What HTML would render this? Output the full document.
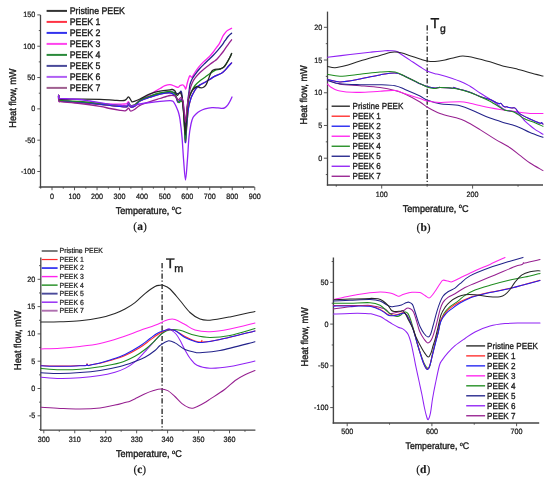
<!DOCTYPE html>
<html><head><meta charset="utf-8"><title>DSC curves</title>
<style>html,body{margin:0;padding:0;background:#fff;width:550px;height:482px;overflow:hidden}svg{display:block;filter:blur(0.35px)}</style>
</head><body>
<svg width="550" height="482" viewBox="0 0 550 482">
<style>text{stroke:#1a1a1a;text-rendering:geometricPrecision}</style>
<rect width="550" height="482" fill="#fff"/>
<line x1="40.5" y1="15" x2="40.5" y2="187.65" stroke="#454545" stroke-width="1.3"/>
<line x1="39.85" y1="187" x2="254.5" y2="187" stroke="#454545" stroke-width="1.3"/>
<line x1="52" y1="187" x2="52" y2="190.2" stroke="#454545" stroke-width="0.9"/>
<text transform="translate(52 198.8) scale(1 1.08)" font-family='"Liberation Sans", sans-serif' font-size="7.2" text-anchor="middle" font-weight="normal" fill="#1a1a1a" stroke-width="0.23">0</text>
<line x1="74.53" y1="187" x2="74.53" y2="190.2" stroke="#454545" stroke-width="0.9"/>
<text transform="translate(74.53 198.8) scale(1 1.08)" font-family='"Liberation Sans", sans-serif' font-size="7.2" text-anchor="middle" font-weight="normal" fill="#1a1a1a" stroke-width="0.23">100</text>
<line x1="97.06" y1="187" x2="97.06" y2="190.2" stroke="#454545" stroke-width="0.9"/>
<text transform="translate(97.06 198.8) scale(1 1.08)" font-family='"Liberation Sans", sans-serif' font-size="7.2" text-anchor="middle" font-weight="normal" fill="#1a1a1a" stroke-width="0.23">200</text>
<line x1="119.59" y1="187" x2="119.59" y2="190.2" stroke="#454545" stroke-width="0.9"/>
<text transform="translate(119.59 198.8) scale(1 1.08)" font-family='"Liberation Sans", sans-serif' font-size="7.2" text-anchor="middle" font-weight="normal" fill="#1a1a1a" stroke-width="0.23">300</text>
<line x1="142.12" y1="187" x2="142.12" y2="190.2" stroke="#454545" stroke-width="0.9"/>
<text transform="translate(142.12 198.8) scale(1 1.08)" font-family='"Liberation Sans", sans-serif' font-size="7.2" text-anchor="middle" font-weight="normal" fill="#1a1a1a" stroke-width="0.23">400</text>
<line x1="164.65" y1="187" x2="164.65" y2="190.2" stroke="#454545" stroke-width="0.9"/>
<text transform="translate(164.65 198.8) scale(1 1.08)" font-family='"Liberation Sans", sans-serif' font-size="7.2" text-anchor="middle" font-weight="normal" fill="#1a1a1a" stroke-width="0.23">500</text>
<line x1="187.18" y1="187" x2="187.18" y2="190.2" stroke="#454545" stroke-width="0.9"/>
<text transform="translate(187.18 198.8) scale(1 1.08)" font-family='"Liberation Sans", sans-serif' font-size="7.2" text-anchor="middle" font-weight="normal" fill="#1a1a1a" stroke-width="0.23">600</text>
<line x1="209.71" y1="187" x2="209.71" y2="190.2" stroke="#454545" stroke-width="0.9"/>
<text transform="translate(209.71 198.8) scale(1 1.08)" font-family='"Liberation Sans", sans-serif' font-size="7.2" text-anchor="middle" font-weight="normal" fill="#1a1a1a" stroke-width="0.23">700</text>
<line x1="232.24" y1="187" x2="232.24" y2="190.2" stroke="#454545" stroke-width="0.9"/>
<text transform="translate(232.24 198.8) scale(1 1.08)" font-family='"Liberation Sans", sans-serif' font-size="7.2" text-anchor="middle" font-weight="normal" fill="#1a1a1a" stroke-width="0.23">800</text>
<line x1="254.77" y1="187" x2="254.77" y2="190.2" stroke="#454545" stroke-width="0.9"/>
<text transform="translate(254.77 198.8) scale(1 1.08)" font-family='"Liberation Sans", sans-serif' font-size="7.2" text-anchor="middle" font-weight="normal" fill="#1a1a1a" stroke-width="0.23">900</text>
<line x1="40.73" y1="187" x2="40.73" y2="188.7" stroke="#454545" stroke-width="0.9"/>
<line x1="63.27" y1="187" x2="63.27" y2="188.7" stroke="#454545" stroke-width="0.9"/>
<line x1="85.8" y1="187" x2="85.8" y2="188.7" stroke="#454545" stroke-width="0.9"/>
<line x1="108.33" y1="187" x2="108.33" y2="188.7" stroke="#454545" stroke-width="0.9"/>
<line x1="130.86" y1="187" x2="130.86" y2="188.7" stroke="#454545" stroke-width="0.9"/>
<line x1="153.38" y1="187" x2="153.38" y2="188.7" stroke="#454545" stroke-width="0.9"/>
<line x1="175.92" y1="187" x2="175.92" y2="188.7" stroke="#454545" stroke-width="0.9"/>
<line x1="198.44" y1="187" x2="198.44" y2="188.7" stroke="#454545" stroke-width="0.9"/>
<line x1="220.97" y1="187" x2="220.97" y2="188.7" stroke="#454545" stroke-width="0.9"/>
<line x1="243.5" y1="187" x2="243.5" y2="188.7" stroke="#454545" stroke-width="0.9"/>
<line x1="37.3" y1="171.5" x2="40.5" y2="171.5" stroke="#454545" stroke-width="0.9"/>
<text transform="translate(35.3 174.09) scale(1 1.08)" font-family='"Liberation Sans", sans-serif' font-size="7.2" text-anchor="end" font-weight="normal" fill="#1a1a1a" stroke-width="0.23">-100</text>
<line x1="37.3" y1="140.18" x2="40.5" y2="140.18" stroke="#454545" stroke-width="0.9"/>
<text transform="translate(35.3 142.77) scale(1 1.08)" font-family='"Liberation Sans", sans-serif' font-size="7.2" text-anchor="end" font-weight="normal" fill="#1a1a1a" stroke-width="0.23">-50</text>
<line x1="37.3" y1="108.86" x2="40.5" y2="108.86" stroke="#454545" stroke-width="0.9"/>
<text transform="translate(35.3 111.45) scale(1 1.08)" font-family='"Liberation Sans", sans-serif' font-size="7.2" text-anchor="end" font-weight="normal" fill="#1a1a1a" stroke-width="0.23">0</text>
<line x1="37.3" y1="77.54" x2="40.5" y2="77.54" stroke="#454545" stroke-width="0.9"/>
<text transform="translate(35.3 80.13) scale(1 1.08)" font-family='"Liberation Sans", sans-serif' font-size="7.2" text-anchor="end" font-weight="normal" fill="#1a1a1a" stroke-width="0.23">50</text>
<line x1="37.3" y1="46.22" x2="40.5" y2="46.22" stroke="#454545" stroke-width="0.9"/>
<text transform="translate(35.3 48.81) scale(1 1.08)" font-family='"Liberation Sans", sans-serif' font-size="7.2" text-anchor="end" font-weight="normal" fill="#1a1a1a" stroke-width="0.23">100</text>
<line x1="37.3" y1="14.9" x2="40.5" y2="14.9" stroke="#454545" stroke-width="0.9"/>
<text transform="translate(35.3 17.49) scale(1 1.08)" font-family='"Liberation Sans", sans-serif' font-size="7.2" text-anchor="end" font-weight="normal" fill="#1a1a1a" stroke-width="0.23">150</text>
<line x1="38.8" y1="187.16" x2="40.5" y2="187.16" stroke="#454545" stroke-width="0.9"/>
<line x1="38.8" y1="155.84" x2="40.5" y2="155.84" stroke="#454545" stroke-width="0.9"/>
<line x1="38.8" y1="124.52" x2="40.5" y2="124.52" stroke="#454545" stroke-width="0.9"/>
<line x1="38.8" y1="93.2" x2="40.5" y2="93.2" stroke="#454545" stroke-width="0.9"/>
<line x1="38.8" y1="61.88" x2="40.5" y2="61.88" stroke="#454545" stroke-width="0.9"/>
<line x1="38.8" y1="30.56" x2="40.5" y2="30.56" stroke="#454545" stroke-width="0.9"/>
<text transform="translate(115.7 213.8) scale(1 1.08)" font-family='"Liberation Sans", sans-serif' font-size="9.1" text-anchor="start" font-weight="normal" fill="#1a1a1a" stroke-width="0.35">Temperature, <tspan font-size="5.64" dy="-3.46">o</tspan><tspan dy="3.46">C</tspan></text>
<text transform="translate(16 98.1) rotate(-90) scale(1 1.08)" font-family='"Liberation Sans", sans-serif' font-size="9.2" text-anchor="middle" font-weight="normal" fill="#1a1a1a" stroke-width="0.35">Heat flow, mW</text>
<text transform="translate(140 230.3) scale(1 1)" font-family='"Liberation Serif", serif' font-size="11.5" text-anchor="middle" font-weight="normal" fill="#1a1a1a" stroke-width="0.15">(<tspan font-weight="bold">a</tspan>)</text>
<line x1="46.6" y1="10.9" x2="67" y2="10.9" stroke="#333" stroke-width="2"/>
<text transform="translate(69.7 13.98) scale(1 1.08)" font-family='"Liberation Sans", sans-serif' font-size="8.8" text-anchor="start" font-weight="normal" fill="#1a1a1a" stroke-width="0.33">Pristine PEEK</text>
<line x1="46.6" y1="21.9" x2="67" y2="21.9" stroke="#ff3344" stroke-width="2"/>
<text transform="translate(69.7 24.98) scale(1 1.08)" font-family='"Liberation Sans", sans-serif' font-size="8.8" text-anchor="start" font-weight="normal" fill="#1a1a1a" stroke-width="0.33">PEEK 1</text>
<line x1="46.6" y1="32.9" x2="67" y2="32.9" stroke="#3333ee" stroke-width="2"/>
<text transform="translate(69.7 35.98) scale(1 1.08)" font-family='"Liberation Sans", sans-serif' font-size="8.8" text-anchor="start" font-weight="normal" fill="#1a1a1a" stroke-width="0.33">PEEK 2</text>
<line x1="46.6" y1="43.9" x2="67" y2="43.9" stroke="#ff44ee" stroke-width="2"/>
<text transform="translate(69.7 46.98) scale(1 1.08)" font-family='"Liberation Sans", sans-serif' font-size="8.8" text-anchor="start" font-weight="normal" fill="#1a1a1a" stroke-width="0.33">PEEK 3</text>
<line x1="46.6" y1="54.9" x2="67" y2="54.9" stroke="#2a8a3a" stroke-width="2"/>
<text transform="translate(69.7 57.98) scale(1 1.08)" font-family='"Liberation Sans", sans-serif' font-size="8.8" text-anchor="start" font-weight="normal" fill="#1a1a1a" stroke-width="0.33">PEEK 4</text>
<line x1="46.6" y1="65.9" x2="67" y2="65.9" stroke="#4a4a9a" stroke-width="2"/>
<text transform="translate(69.7 68.98) scale(1 1.08)" font-family='"Liberation Sans", sans-serif' font-size="8.8" text-anchor="start" font-weight="normal" fill="#1a1a1a" stroke-width="0.33">PEEK 5</text>
<line x1="46.6" y1="76.9" x2="67" y2="76.9" stroke="#b060f4" stroke-width="2"/>
<text transform="translate(69.7 79.98) scale(1 1.08)" font-family='"Liberation Sans", sans-serif' font-size="8.8" text-anchor="start" font-weight="normal" fill="#1a1a1a" stroke-width="0.33">PEEK 6</text>
<line x1="46.6" y1="87.9" x2="67" y2="87.9" stroke="#a06090" stroke-width="2"/>
<text transform="translate(69.7 90.98) scale(1 1.08)" font-family='"Liberation Sans", sans-serif' font-size="8.8" text-anchor="start" font-weight="normal" fill="#1a1a1a" stroke-width="0.33">PEEK 7</text>
<path d="M58.6,95.5C58.65,96.28 58.33,99.3 58.9,100.2C59.47,101.1 58.48,100.57 62,100.9C65.52,101.23 73.67,101.75 80,102.2C86.33,102.65 94.17,103.27 100,103.6C105.83,103.93 110.83,104.13 115,104.2C119.17,104.27 123,104.13 125,104C127,103.87 126.42,103.77 127,103.4C127.58,103.03 127.92,101.47 128.5,101.8C129.08,102.13 129.42,104.93 130.5,105.4C131.58,105.87 133.42,105.52 135,104.6C136.58,103.68 137.5,101.58 140,99.9C142.5,98.22 146.67,96.4 150,94.5C153.33,92.6 157.5,89.97 160,88.5C162.5,87.03 163.33,86.35 165,85.7C166.67,85.05 168.33,84.5 170,84.6C171.67,84.7 173.67,85.83 175,86.3C176.33,86.77 177.17,87.5 178,87.4C178.83,87.3 179.17,86.1 180,85.7C180.83,85.3 182.2,84.75 183,85C183.8,85.25 184.35,86.53 184.8,87.2C185.25,87.87 185.42,89.12 185.7,89C185.98,88.88 186.23,87.5 186.5,86.5C186.77,85.5 186.9,84.45 187.3,83C187.7,81.55 188.45,79.03 188.9,77.8C189.35,76.57 189.48,75.7 190,75.6C190.52,75.5 191.25,77.63 192,77.2C192.75,76.77 193.42,74.65 194.5,73C195.58,71.35 196.97,69.2 198.5,67.3C200.03,65.4 202,63.28 203.7,61.6C205.4,59.92 207.57,58.25 208.7,57.2C209.83,56.15 209.73,56.17 210.5,55.3C211.27,54.43 212.28,53.32 213.3,52C214.32,50.68 215.63,48.72 216.6,47.4C217.57,46.08 218.4,45.22 219.1,44.1C219.8,42.98 220.1,42.15 220.8,40.7C221.5,39.25 222.4,36.92 223.3,35.4C224.2,33.88 225.37,32.5 226.2,31.6C227.03,30.7 227.4,30.57 228.3,30C229.2,29.43 231.05,28.5 231.6,28.2" fill="none" stroke="#ff22ee" stroke-width="1.3" stroke-linejoin="round" stroke-linecap="round"/>
<path d="M58.6,95.5C58.65,96.32 58.33,99.45 58.9,100.4C59.47,101.35 58.48,100.87 62,101.2C65.52,101.53 73.67,101.87 80,102.4C86.33,102.93 93.33,103.77 100,104.4C106.67,105.03 115.5,105.87 120,106.2C124.5,106.53 125.55,106.87 127,106.4C128.45,105.93 128.08,103.37 128.7,103.4C129.32,103.43 129.65,106.23 130.7,106.6C131.75,106.97 133.45,106.57 135,105.6C136.55,104.63 137.5,102.33 140,100.8C142.5,99.27 146.67,97.63 150,96.4C153.33,95.17 156.67,94.17 160,93.4C163.33,92.63 167.5,91.9 170,91.8C172.5,91.7 173.67,92.5 175,92.8C176.33,93.1 177.17,93.68 178,93.6C178.83,93.52 179.5,92.7 180,92.3C180.5,91.9 180.67,90.75 181,91.2C181.33,91.65 181.58,91.87 182,95C182.42,98.13 182.93,104.5 183.5,110C184.07,115.5 184.85,127.67 185.4,128C185.95,128.33 186.33,117 186.8,112C187.27,107 187.83,101.38 188.2,98C188.57,94.62 188.7,93.97 189,91.7C189.3,89.43 189.5,86.48 190,84.4C190.5,82.32 191.17,80.83 192,79.2C192.83,77.57 193.67,76.42 195,74.6C196.33,72.78 198.33,70.2 200,68.3C201.67,66.4 203.33,64.83 205,63.2C206.67,61.57 208.62,59.82 210,58.5C211.38,57.18 212.05,56.6 213.3,55.3C214.55,54 216.12,52.3 217.5,50.7C218.88,49.1 220.35,47.37 221.6,45.7C222.85,44.03 223.88,42.28 225,40.7C226.12,39.12 227.2,37.45 228.3,36.2C229.4,34.95 231.05,33.7 231.6,33.2" fill="none" stroke="#22228a" stroke-width="1.3" stroke-linejoin="round" stroke-linecap="round"/>
<path d="M58.6,95.5C58.65,96.3 58.33,99.38 58.9,100.3C59.47,101.22 58.48,100.68 62,101C65.52,101.32 73.67,101.67 80,102.2C86.33,102.73 93.33,103.5 100,104.2C106.67,104.9 115.5,105.97 120,106.4C124.5,106.83 125.55,107.27 127,106.8C128.45,106.33 128.08,103.57 128.7,103.6C129.32,103.63 129.65,106.6 130.7,107C131.75,107.4 133.45,107 135,106C136.55,105 137.5,102.47 140,101C142.5,99.53 146.67,98.37 150,97.2C153.33,96.03 156.67,94.73 160,94C163.33,93.27 167.5,92.55 170,92.8C172.5,93.05 173.83,94.32 175,95.5C176.17,96.68 176.5,98.8 177,99.9C177.5,101 177.33,102.1 178,102.1C178.67,102.1 180.17,99.82 181,99.9C181.83,99.98 182.45,99.25 183,102.6C183.55,105.95 183.9,113.35 184.3,120C184.7,126.65 184.98,141.67 185.4,142.5C185.82,143.33 186.28,130.75 186.8,125C187.32,119.25 187.8,112.5 188.5,108C189.2,103.5 190.25,100.37 191,98C191.75,95.63 192.17,95.37 193,93.8C193.83,92.23 194.83,90.08 196,88.6C197.17,87.12 198.5,85.95 200,84.9C201.5,83.85 203.33,83.25 205,82.3C206.67,81.35 208.33,80.23 210,79.2C211.67,78.17 213.15,77.05 215,76.1C216.85,75.15 219.45,74.45 221.1,73.5C222.75,72.55 223.65,71.65 224.9,70.4C226.15,69.15 227.48,67.25 228.6,66C229.72,64.75 231.1,63.42 231.6,62.9" fill="none" stroke="#ff2a2a" stroke-width="1.3" stroke-linejoin="round" stroke-linecap="round"/>
<path d="M58.6,95.5C58.65,96.3 58.33,99.38 58.9,100.3C59.47,101.22 58.48,100.68 62,101C65.52,101.32 73.67,101.67 80,102.2C86.33,102.73 93.33,103.5 100,104.2C106.67,104.9 115.5,105.97 120,106.4C124.5,106.83 125.55,107.27 127,106.8C128.45,106.33 128.08,103.57 128.7,103.6C129.32,103.63 129.65,106.6 130.7,107C131.75,107.4 133.45,107 135,106C136.55,105 137.5,102.47 140,101C142.5,99.53 146.67,98.37 150,97.2C153.33,96.03 156.67,94.73 160,94C163.33,93.27 167.5,92.55 170,92.8C172.5,93.05 173.83,94.32 175,95.5C176.17,96.68 176.5,98.8 177,99.9C177.5,101 177.33,102.1 178,102.1C178.67,102.1 180.17,99.82 181,99.9C181.83,99.98 182.45,99.25 183,102.6C183.55,105.95 183.9,113.35 184.3,120C184.7,126.65 184.98,141.67 185.4,142.5C185.82,143.33 186.28,130.75 186.8,125C187.32,119.25 187.8,112.5 188.5,108C189.2,103.5 190.25,100.37 191,98C191.75,95.63 192.17,95.37 193,93.8C193.83,92.23 194.83,90.08 196,88.6C197.17,87.12 198.5,85.95 200,84.9C201.5,83.85 203.33,83.25 205,82.3C206.67,81.35 208.33,80.23 210,79.2C211.67,78.17 213.15,77.05 215,76.1C216.85,75.15 219.45,74.45 221.1,73.5C222.75,72.55 223.65,71.65 224.9,70.4C226.15,69.15 227.48,67.25 228.6,66C229.72,64.75 231.1,63.42 231.6,62.9" fill="none" stroke="#2020f0" stroke-width="1.3" stroke-linejoin="round" stroke-linecap="round"/>
<path d="M58.6,95.5C58.65,96.25 58.33,99.15 58.9,100C59.47,100.85 58.48,100.35 62,100.6C65.52,100.85 73.67,101.03 80,101.5C86.33,101.97 93.33,102.75 100,103.4C106.67,104.05 115.5,105.03 120,105.4C124.5,105.77 125.55,106.03 127,105.6C128.45,105.17 128.08,102.8 128.7,102.8C129.32,102.8 129.65,105.3 130.7,105.6C131.75,105.9 133.45,105.5 135,104.6C136.55,103.7 137.5,101.63 140,100.2C142.5,98.77 146.67,97.2 150,96C153.33,94.8 156.67,93.77 160,93C163.33,92.23 167.5,91.25 170,91.4C172.5,91.55 173.83,92.67 175,93.9C176.17,95.13 176.33,97.35 177,98.8C177.67,100.25 178.33,102.23 179,102.6C179.67,102.97 180.33,100.77 181,101C181.67,101.23 182.5,100.83 183,104C183.5,107.17 183.6,113.83 184,120C184.4,126.17 184.93,141 185.4,141C185.87,141 186.37,126.5 186.8,120C187.23,113.5 187.47,106.17 188,102C188.53,97.83 189.33,96.9 190,95C190.67,93.1 191.17,92.18 192,90.6C192.83,89.02 193.67,87.13 195,85.5C196.33,83.87 198.33,82.18 200,80.8C201.67,79.42 203.33,78.42 205,77.2C206.67,75.98 208.33,74.63 210,73.5C211.67,72.37 213.35,71.13 215,70.4C216.65,69.67 218.47,69.62 219.9,69.1C221.33,68.58 222.57,68.12 223.6,67.3C224.63,66.48 225.07,65.83 226.1,64.2C227.13,62.57 228.88,59.27 229.8,57.5C230.72,55.73 231.3,54.25 231.6,53.6" fill="none" stroke="#1e8c1e" stroke-width="1.3" stroke-linejoin="round" stroke-linecap="round"/>
<path d="M58.6,95.3C58.65,95.88 58.33,98.13 58.9,98.8C59.47,99.47 60.15,99.23 62,99.3C63.85,99.37 67,99.23 70,99.2C73,99.17 75,99.08 80,99.1C85,99.12 94.17,99.1 100,99.3C105.83,99.5 111,100.1 115,100.3C119,100.5 122.08,100.72 124,100.5C125.92,100.28 125.75,99.62 126.5,99C127.25,98.38 127.88,96.8 128.5,96.8C129.12,96.8 129.62,98.17 130.2,99C130.78,99.83 131.2,101.43 132,101.8C132.8,102.17 133.67,101.67 135,101.2C136.33,100.73 137.5,100.22 140,99C142.5,97.78 146.67,95.2 150,93.9C153.33,92.6 156.67,91.88 160,91.2C163.33,90.52 167.92,90.08 170,89.8C172.08,89.52 171.67,89.3 172.5,89.5C173.33,89.7 174.33,90.17 175,91C175.67,91.83 176.08,93.78 176.5,94.5C176.92,95.22 177.08,95.47 177.5,95.3C177.92,95.13 178.5,93.92 179,93.5C179.5,93.08 180,92.22 180.5,92.8C181,93.38 181.58,94.8 182,97C182.42,99.2 182.63,102.17 183,106C183.37,109.83 183.82,115.17 184.2,120C184.58,124.83 184.92,135 185.3,135C185.68,135 186.05,125.5 186.5,120C186.95,114.5 187.42,106.17 188,102C188.58,97.83 189.17,97.08 190,95C190.83,92.92 191.83,90.92 193,89.5C194.17,88.08 195.83,86.8 197,86.5C198.17,86.2 199,87.53 200,87.7C201,87.87 202,87.97 203,87.5C204,87.03 205.17,86.1 206,84.9C206.83,83.7 207.33,81.93 208,80.3C208.67,78.67 209.33,76.67 210,75.1C210.67,73.53 211.17,71.85 212,70.9C212.83,69.95 213.68,69.72 215,69.4C216.32,69.08 218.47,69.35 219.9,69C221.33,68.65 222.57,68.13 223.6,67.3C224.63,66.47 225.07,65.63 226.1,64C227.13,62.37 228.88,59.27 229.8,57.5C230.72,55.73 231.3,54.08 231.6,53.4" fill="none" stroke="#262626" stroke-width="1.3" stroke-linejoin="round" stroke-linecap="round"/>
<path d="M58.6,95.5C58.65,96.45 58.33,100.15 58.9,101.2C59.47,102.25 58.48,101.42 62,101.8C65.52,102.18 73.67,102.73 80,103.5C86.33,104.27 95,105.57 100,106.4C105,107.23 106.67,107.85 110,108.5C113.33,109.15 117.5,109.92 120,110.3C122.5,110.68 123.83,110.92 125,110.8C126.17,110.68 126.38,110.03 127,109.6C127.62,109.17 128.12,107.97 128.7,108.2C129.28,108.43 129.62,110.73 130.5,111C131.38,111.27 132.42,110.73 134,109.8C135.58,108.87 137.33,106.77 140,105.4C142.67,104.03 146.67,102.75 150,101.6C153.33,100.45 156.67,99.52 160,98.5C163.33,97.48 167.5,95.92 170,95.5C172.5,95.08 173.67,95.27 175,96C176.33,96.73 177,99.62 178,99.9C179,100.18 180.17,97.52 181,97.7C181.83,97.88 182.47,98.62 183,101C183.53,103.38 183.8,108.5 184.2,112C184.6,115.5 185,122 185.4,122C185.8,122 186.17,115.67 186.6,112C187.03,108.33 187.43,103.73 188,100C188.57,96.27 189.33,92.37 190,89.6C190.67,86.83 191.17,85.3 192,83.4C192.83,81.5 193.67,80.02 195,78.2C196.33,76.38 198.33,74.15 200,72.5C201.67,70.85 203.33,69.68 205,68.3C206.67,66.92 208.33,65.45 210,64.2C211.67,62.95 213.82,61.67 215,60.8C216.18,59.93 216.27,59.85 217.1,59C217.93,58.15 218.97,56.95 220,55.7C221.03,54.45 222.2,53.02 223.3,51.5C224.4,49.98 225.63,47.98 226.6,46.6C227.57,45.22 228.27,44.33 229.1,43.2C229.93,42.07 231.18,40.37 231.6,39.8" fill="none" stroke="#962090" stroke-width="1.3" stroke-linejoin="round" stroke-linecap="round"/>
<path d="M58.6,95.3C58.65,95.78 58.33,97.65 58.9,98.2C59.47,98.75 60.15,98.48 62,98.6C63.85,98.72 67,98.75 70,98.9C73,99.05 76.67,99.15 80,99.5C83.33,99.85 86.67,100.47 90,101C93.33,101.53 96.67,102.15 100,102.7C103.33,103.25 106.67,103.87 110,104.3C113.33,104.73 117.5,105.05 120,105.3C122.5,105.55 123.83,105.82 125,105.8C126.17,105.78 126.38,105.63 127,105.2C127.62,104.77 128.08,103.07 128.7,103.2C129.32,103.33 129.65,105.67 130.7,106C131.75,106.33 133.45,105.53 135,105.2C136.55,104.87 137.5,104.45 140,104C142.5,103.55 146.67,102.95 150,102.5C153.33,102.05 156.67,101.62 160,101.3C163.33,100.98 167.83,100.62 170,100.6C172.17,100.58 172.17,100.58 173,101.2C173.83,101.82 174.33,103.07 175,104.3C175.67,105.53 176.42,107.23 177,108.6C177.58,109.97 178,110.68 178.5,112.5C179,114.32 179.42,115.42 180,119.5C180.58,123.58 181.4,130.25 182,137C182.6,143.75 183.02,152.83 183.6,160C184.18,167.17 184.87,180 185.5,180C186.13,180 186.82,167.17 187.4,160C187.98,152.83 188.4,143 189,137C189.6,131 190.33,127.25 191,124C191.67,120.75 192.17,119.17 193,117.5C193.83,115.83 194.83,115.08 196,114C197.17,112.92 198.5,111.87 200,111C201.5,110.13 203,109.37 205,108.8C207,108.23 209.83,107.75 212,107.6C214.17,107.45 216.33,107.77 218,107.9C219.67,108.03 220.83,108.45 222,108.4C223.17,108.35 224,108.23 225,107.6C226,106.97 227.17,105.67 228,104.6C228.83,103.53 229.33,102.47 230,101.2C230.67,99.93 231.67,97.7 232,97" fill="none" stroke="#9022f4" stroke-width="1.3" stroke-linejoin="round" stroke-linecap="round"/>
<line x1="327.5" y1="11.6" x2="327.5" y2="185.65" stroke="#454545" stroke-width="1.3"/>
<line x1="326.85" y1="185" x2="543" y2="185" stroke="#454545" stroke-width="1.3"/>
<line x1="381.7" y1="185" x2="381.7" y2="188.6" stroke="#454545" stroke-width="0.9"/>
<text transform="translate(381.7 196.7) scale(1 1.08)" font-family='"Liberation Sans", sans-serif' font-size="7.2" text-anchor="middle" font-weight="normal" fill="#1a1a1a" stroke-width="0.23">100</text>
<line x1="472.6" y1="185" x2="472.6" y2="188.6" stroke="#454545" stroke-width="0.9"/>
<text transform="translate(472.6 196.7) scale(1 1.08)" font-family='"Liberation Sans", sans-serif' font-size="7.2" text-anchor="middle" font-weight="normal" fill="#1a1a1a" stroke-width="0.23">200</text>
<line x1="336.25" y1="185" x2="336.25" y2="186.7" stroke="#454545" stroke-width="0.9"/>
<line x1="427.15" y1="185" x2="427.15" y2="186.7" stroke="#454545" stroke-width="0.9"/>
<line x1="518.05" y1="185" x2="518.05" y2="186.7" stroke="#454545" stroke-width="0.9"/>
<line x1="323.9" y1="158.2" x2="327.5" y2="158.2" stroke="#454545" stroke-width="0.9"/>
<text transform="translate(322.3 160.79) scale(1 1.08)" font-family='"Liberation Sans", sans-serif' font-size="7.2" text-anchor="end" font-weight="normal" fill="#1a1a1a" stroke-width="0.23">0</text>
<line x1="323.9" y1="125.47" x2="327.5" y2="125.47" stroke="#454545" stroke-width="0.9"/>
<text transform="translate(322.3 128.07) scale(1 1.08)" font-family='"Liberation Sans", sans-serif' font-size="7.2" text-anchor="end" font-weight="normal" fill="#1a1a1a" stroke-width="0.23">5</text>
<line x1="323.9" y1="92.75" x2="327.5" y2="92.75" stroke="#454545" stroke-width="0.9"/>
<text transform="translate(322.3 95.34) scale(1 1.08)" font-family='"Liberation Sans", sans-serif' font-size="7.2" text-anchor="end" font-weight="normal" fill="#1a1a1a" stroke-width="0.23">10</text>
<line x1="323.9" y1="60.02" x2="327.5" y2="60.02" stroke="#454545" stroke-width="0.9"/>
<text transform="translate(322.3 62.62) scale(1 1.08)" font-family='"Liberation Sans", sans-serif' font-size="7.2" text-anchor="end" font-weight="normal" fill="#1a1a1a" stroke-width="0.23">15</text>
<line x1="323.9" y1="27.3" x2="327.5" y2="27.3" stroke="#454545" stroke-width="0.9"/>
<text transform="translate(322.3 29.89) scale(1 1.08)" font-family='"Liberation Sans", sans-serif' font-size="7.2" text-anchor="end" font-weight="normal" fill="#1a1a1a" stroke-width="0.23">20</text>
<line x1="325.8" y1="174.56" x2="327.5" y2="174.56" stroke="#454545" stroke-width="0.9"/>
<line x1="325.8" y1="141.84" x2="327.5" y2="141.84" stroke="#454545" stroke-width="0.9"/>
<line x1="325.8" y1="109.11" x2="327.5" y2="109.11" stroke="#454545" stroke-width="0.9"/>
<line x1="325.8" y1="76.39" x2="327.5" y2="76.39" stroke="#454545" stroke-width="0.9"/>
<line x1="325.8" y1="43.66" x2="327.5" y2="43.66" stroke="#454545" stroke-width="0.9"/>
<text transform="translate(402.7 211.7) scale(1 1.08)" font-family='"Liberation Sans", sans-serif' font-size="9.1" text-anchor="start" font-weight="normal" fill="#1a1a1a" stroke-width="0.35">Temperature, <tspan font-size="5.64" dy="-3.46">o</tspan><tspan dy="3.46">C</tspan></text>
<text transform="translate(307 94.9) rotate(-90) scale(1 1.08)" font-family='"Liberation Sans", sans-serif' font-size="9.2" text-anchor="middle" font-weight="normal" fill="#1a1a1a" stroke-width="0.35">Heat flow, mW</text>
<text transform="translate(423.6 230.5) scale(1 1)" font-family='"Liberation Serif", serif' font-size="11.5" text-anchor="middle" font-weight="normal" fill="#1a1a1a" stroke-width="0.15">(<tspan font-weight="bold">b</tspan>)</text>
<line x1="427.2" y1="25.2" x2="427.2" y2="185" stroke="#222" stroke-width="1.3" stroke-dasharray="5.3 1.9 1.2 2.2"/>
<text transform="translate(430.6 28) scale(1 1)" font-family='"Liberation Sans", sans-serif' font-size="14.4" text-anchor="start" font-weight="normal" fill="#1a1a1a" stroke-width="0.4">T</text>
<text transform="translate(440 32) scale(1 1)" font-family='"Liberation Sans", sans-serif' font-size="10.4" text-anchor="start" font-weight="normal" fill="#1a1a1a" stroke-width="0.4">g</text>
<line x1="331.6" y1="106.2" x2="349.9" y2="106.2" stroke="#262626" stroke-width="1.35"/>
<text transform="translate(352.5 109.03) scale(1 1.08)" font-family='"Liberation Sans", sans-serif' font-size="8.1" text-anchor="start" font-weight="normal" fill="#1a1a1a" stroke-width="0.29">Pristine PEEK</text>
<line x1="331.6" y1="116.21" x2="349.9" y2="116.21" stroke="#ff2a2a" stroke-width="1.35"/>
<text transform="translate(352.5 119.05) scale(1 1.08)" font-family='"Liberation Sans", sans-serif' font-size="8.1" text-anchor="start" font-weight="normal" fill="#1a1a1a" stroke-width="0.29">PEEK 1</text>
<line x1="331.6" y1="126.22" x2="349.9" y2="126.22" stroke="#2020f0" stroke-width="1.35"/>
<text transform="translate(352.5 129.06) scale(1 1.08)" font-family='"Liberation Sans", sans-serif' font-size="8.1" text-anchor="start" font-weight="normal" fill="#1a1a1a" stroke-width="0.29">PEEK 2</text>
<line x1="331.6" y1="136.23" x2="349.9" y2="136.23" stroke="#ff22ee" stroke-width="1.35"/>
<text transform="translate(352.5 139.07) scale(1 1.08)" font-family='"Liberation Sans", sans-serif' font-size="8.1" text-anchor="start" font-weight="normal" fill="#1a1a1a" stroke-width="0.29">PEEK 3</text>
<line x1="331.6" y1="146.24" x2="349.9" y2="146.24" stroke="#1e8c1e" stroke-width="1.35"/>
<text transform="translate(352.5 149.08) scale(1 1.08)" font-family='"Liberation Sans", sans-serif' font-size="8.1" text-anchor="start" font-weight="normal" fill="#1a1a1a" stroke-width="0.29">PEEK 4</text>
<line x1="331.6" y1="156.25" x2="349.9" y2="156.25" stroke="#22228a" stroke-width="1.35"/>
<text transform="translate(352.5 159.09) scale(1 1.08)" font-family='"Liberation Sans", sans-serif' font-size="8.1" text-anchor="start" font-weight="normal" fill="#1a1a1a" stroke-width="0.29">PEEK 5</text>
<line x1="331.6" y1="166.26" x2="349.9" y2="166.26" stroke="#9022f4" stroke-width="1.35"/>
<text transform="translate(352.5 169.09) scale(1 1.08)" font-family='"Liberation Sans", sans-serif' font-size="8.1" text-anchor="start" font-weight="normal" fill="#1a1a1a" stroke-width="0.29">PEEK 6</text>
<line x1="331.6" y1="176.27" x2="349.9" y2="176.27" stroke="#962090" stroke-width="1.35"/>
<text transform="translate(352.5 179.1) scale(1 1.08)" font-family='"Liberation Sans", sans-serif' font-size="8.1" text-anchor="start" font-weight="normal" fill="#1a1a1a" stroke-width="0.29">PEEK 7</text>
<path d="M327.5,80C329.58,80.72 334.58,83.35 340,84.3C345.42,85.25 353.33,85.17 360,85.7C366.67,86.23 374.17,86.72 380,87.5C385.83,88.28 390.83,89.32 395,90.4C399.17,91.48 400.83,92.07 405,94C409.17,95.93 416.33,99.83 420,102C423.67,104.17 423.67,105.07 427,107C430.33,108.93 435.33,111.83 440,113.6C444.67,115.37 450.83,116.37 455,117.6C459.17,118.83 460.83,119 465,121C469.17,123 475,126.58 480,129.6C485,132.62 490,136.08 495,139.1C500,142.12 505.83,144.98 510,147.7C514.17,150.42 516.67,152.85 520,155.4C523.33,157.95 526.17,160.47 530,163C533.83,165.53 540.83,169.33 543,170.6" fill="none" stroke="#962090" stroke-width="1.05" stroke-linejoin="round" stroke-linecap="round"/>
<path d="M327.5,80.5C329.58,81.05 334.58,83.1 340,83.8C345.42,84.5 353.33,84.55 360,84.7C366.67,84.85 374.17,84.53 380,84.7C385.83,84.87 390.83,84.92 395,85.7C399.17,86.48 400.83,87.68 405,89.4C409.17,91.12 416.33,94.23 420,96C423.67,97.77 423.67,98.72 427,100C430.33,101.28 434.5,102.75 440,103.7C445.5,104.65 454.17,104.4 460,105.7C465.83,107 470,109.43 475,111.5C480,113.57 485,116.2 490,118.1C495,120 501.33,121.78 505,122.9C508.67,124.02 509.5,124 512,124.8C514.5,125.6 517,126.42 520,127.7C523,128.98 526.17,130.9 530,132.5C533.83,134.1 540.83,136.5 543,137.3" fill="none" stroke="#22228a" stroke-width="1.05" stroke-linejoin="round" stroke-linecap="round"/>
<path d="M327.5,84C328.08,84.55 329.75,86.4 331,87.3C332.25,88.2 333.5,88.8 335,89.4C336.5,90 337.17,90.42 340,90.9C342.83,91.38 347.83,92.08 352,92.3C356.17,92.52 360.33,92.38 365,92.2C369.67,92.02 375,91.47 380,91.2C385,90.93 390.83,90.17 395,90.6C399.17,91.03 400.83,92.48 405,93.8C409.17,95.12 416.33,97.32 420,98.5C423.67,99.68 423.67,100.25 427,100.9C430.33,101.55 434.5,102.25 440,102.4C445.5,102.55 455,101.67 460,101.8C465,101.93 466.67,102.57 470,103.2C473.33,103.83 476.67,104.83 480,105.6C483.33,106.37 486.67,107.15 490,107.8C493.33,108.45 495.83,108.88 500,109.5C504.17,110.12 510,110.85 515,111.5C520,112.15 525.33,113.08 530,113.4C534.67,113.72 540.83,113.4 543,113.4" fill="none" stroke="#ff22ee" stroke-width="1.05" stroke-linejoin="round" stroke-linecap="round"/>
<path d="M327.5,57.3C331.25,56.83 342.92,55.35 350,54.5C357.08,53.65 364.17,52.83 370,52.2C375.83,51.57 381.33,50.93 385,50.7C388.67,50.47 390,50.67 392,50.8C394,50.93 395.67,51.05 397,51.5C398.33,51.95 397.83,52.07 400,53.5C402.17,54.93 406.67,57.9 410,60.1C413.33,62.3 417.17,64.88 420,66.7C422.83,68.52 424.5,69.82 427,71C429.5,72.18 432.83,73.18 435,73.8C437.17,74.42 435.83,73.47 440,74.7C444.17,75.93 455,79.28 460,81.2C465,83.12 466.67,84.23 470,86.2C473.33,88.17 476.67,90.83 480,93C483.33,95.17 487.17,97.33 490,99.2C492.83,101.07 494.5,102.4 497,104.2C499.5,106 502.5,108.82 505,110C507.5,111.18 510.33,111 512,111.3C513.67,111.6 513.67,111.12 515,111.8C516.33,112.48 518.33,113.85 520,115.4C521.67,116.95 523.33,119.42 525,121.1C526.67,122.78 528.33,124.12 530,125.5C531.67,126.88 532.83,127.93 535,129.4C537.17,130.87 541.67,133.48 543,134.3" fill="none" stroke="#9022f4" stroke-width="1.05" stroke-linejoin="round" stroke-linecap="round"/>
<path d="M327.5,79.5C329.58,79.9 334.58,81.98 340,81.9C345.42,81.82 353.33,80.17 360,79C366.67,77.83 374.17,75.9 380,74.9C385.83,73.9 390.83,72.78 395,73C399.17,73.22 400.83,74.4 405,76.2C409.17,78 416.33,82.08 420,83.8C423.67,85.52 424.5,85.8 427,86.5C429.5,87.2 432.83,87.85 435,88C437.17,88.15 437.17,87.37 440,87.4C442.83,87.43 449.67,88.2 452,88.2C454.33,88.2 453.33,87.38 454,87.4C454.67,87.42 453.33,87.5 456,88.3C458.67,89.1 466,90.83 470,92.2C474,93.57 476.67,95.28 480,96.5C483.33,97.72 487.33,98.5 490,99.5C492.67,100.5 494.5,101.82 496,102.5C497.5,103.18 498.17,103.45 499,103.6C499.83,103.75 500.33,103.03 501,103.4C501.67,103.77 502.33,105.22 503,105.8C503.67,106.38 504.33,106.73 505,106.9C505.67,107.07 506.33,106.68 507,106.8C507.67,106.92 508.17,107.4 509,107.6C509.83,107.8 511.17,107.97 512,108C512.83,108.03 513.33,107.63 514,107.8C514.67,107.97 515,107.98 516,109C517,110.02 517.67,112.23 520,113.9C522.33,115.57 526.67,117.45 530,119C533.33,120.55 538.08,122.62 540,123.2C541.92,123.78 541,122.33 541.5,122.5C542,122.67 542.75,123.92 543,124.2" fill="none" stroke="#ff2a2a" stroke-width="1.05" stroke-linejoin="round" stroke-linecap="round"/>
<path d="M327.5,79.5C329.58,79.9 334.58,81.98 340,81.9C345.42,81.82 353.33,80.17 360,79C366.67,77.83 374.17,75.9 380,74.9C385.83,73.9 390.83,72.78 395,73C399.17,73.22 400.83,74.4 405,76.2C409.17,78 416.33,82.08 420,83.8C423.67,85.52 424.5,85.8 427,86.5C429.5,87.2 432.83,87.85 435,88C437.17,88.15 437.17,87.37 440,87.4C442.83,87.43 449.67,88.2 452,88.2C454.33,88.2 453.33,87.38 454,87.4C454.67,87.42 453.33,87.5 456,88.3C458.67,89.1 466,90.83 470,92.2C474,93.57 476.67,95.28 480,96.5C483.33,97.72 487.33,98.5 490,99.5C492.67,100.5 494.5,101.82 496,102.5C497.5,103.18 498.17,103.45 499,103.6C499.83,103.75 500.33,103.03 501,103.4C501.67,103.77 502.33,105.22 503,105.8C503.67,106.38 504.33,106.73 505,106.9C505.67,107.07 506.33,106.68 507,106.8C507.67,106.92 508.17,107.4 509,107.6C509.83,107.8 511.17,107.97 512,108C512.83,108.03 513.33,107.63 514,107.8C514.67,107.97 515,107.98 516,109C517,110.02 517.67,112.23 520,113.9C522.33,115.57 526.67,117.45 530,119C533.33,120.55 538.08,122.62 540,123.2C541.92,123.78 541,122.33 541.5,122.5C542,122.67 542.75,123.92 543,124.2" fill="none" stroke="#2020f0" stroke-width="1.05" stroke-linejoin="round" stroke-linecap="round"/>
<path d="M327.5,74.3C329.58,74.62 334.58,76.2 340,76.2C345.42,76.2 353.33,75 360,74.3C366.67,73.6 374.17,72.4 380,72C385.83,71.6 390.83,71.17 395,71.9C399.17,72.63 400.83,74.45 405,76.4C409.17,78.35 416.33,81.83 420,83.6C423.67,85.37 424.67,86.18 427,87C429.33,87.82 431.83,88.4 434,88.5C436.17,88.6 436.5,87.58 440,87.6C443.5,87.62 450,87.8 455,88.6C460,89.4 465.83,91.05 470,92.4C474.17,93.75 476.67,95.23 480,96.7C483.33,98.17 486.33,99.2 490,101.2C493.67,103.2 499.5,107.2 502,108.7C504.5,110.2 503.17,109.68 505,110.2C506.83,110.72 510.83,111.1 513,111.8C515.17,112.5 516,113.2 518,114.4C520,115.6 522.17,117.62 525,119C527.83,120.38 532,121.48 535,122.7C538,123.92 541.67,125.7 543,126.3" fill="none" stroke="#1e8c1e" stroke-width="1.05" stroke-linejoin="round" stroke-linecap="round"/>
<path d="M327.5,66.5C328.75,66.7 332.08,67.82 335,67.7C337.92,67.58 340.83,66.9 345,65.8C349.17,64.7 354.17,62.83 360,61.1C365.83,59.37 375,56.83 380,55.4C385,53.97 387.5,53.07 390,52.5C392.5,51.93 393,51.92 395,52C397,52.08 399.5,52.37 402,53C404.5,53.63 407,54.8 410,55.8C413,56.8 417.17,58.13 420,59C422.83,59.87 424.5,60.58 427,61C429.5,61.42 432,61.67 435,61.5C438,61.33 441.67,60.68 445,60C448.33,59.32 452,58.05 455,57.4C458,56.75 459.67,56.02 463,56.1C466.33,56.18 470.5,56.95 475,57.9C479.5,58.85 485,60.35 490,61.8C495,63.25 500.83,65.5 505,66.6C509.17,67.7 510.83,67.38 515,68.4C519.17,69.42 525.33,71.43 530,72.7C534.67,73.97 540.83,75.45 543,76" fill="none" stroke="#262626" stroke-width="1.05" stroke-linejoin="round" stroke-linecap="round"/>
<line x1="40.8" y1="257.5" x2="40.8" y2="430.75" stroke="#454545" stroke-width="1.3"/>
<line x1="40.15" y1="430.1" x2="255.4" y2="430.1" stroke="#454545" stroke-width="1.3"/>
<line x1="43.8" y1="430.1" x2="43.8" y2="433.3" stroke="#454545" stroke-width="0.9"/>
<text transform="translate(43.8 442.2) scale(1 1.08)" font-family='"Liberation Sans", sans-serif' font-size="7.2" text-anchor="middle" font-weight="normal" fill="#1a1a1a" stroke-width="0.23">300</text>
<line x1="74.75" y1="430.1" x2="74.75" y2="433.3" stroke="#454545" stroke-width="0.9"/>
<text transform="translate(74.75 442.2) scale(1 1.08)" font-family='"Liberation Sans", sans-serif' font-size="7.2" text-anchor="middle" font-weight="normal" fill="#1a1a1a" stroke-width="0.23">310</text>
<line x1="105.7" y1="430.1" x2="105.7" y2="433.3" stroke="#454545" stroke-width="0.9"/>
<text transform="translate(105.7 442.2) scale(1 1.08)" font-family='"Liberation Sans", sans-serif' font-size="7.2" text-anchor="middle" font-weight="normal" fill="#1a1a1a" stroke-width="0.23">320</text>
<line x1="136.65" y1="430.1" x2="136.65" y2="433.3" stroke="#454545" stroke-width="0.9"/>
<text transform="translate(136.65 442.2) scale(1 1.08)" font-family='"Liberation Sans", sans-serif' font-size="7.2" text-anchor="middle" font-weight="normal" fill="#1a1a1a" stroke-width="0.23">330</text>
<line x1="167.6" y1="430.1" x2="167.6" y2="433.3" stroke="#454545" stroke-width="0.9"/>
<text transform="translate(167.6 442.2) scale(1 1.08)" font-family='"Liberation Sans", sans-serif' font-size="7.2" text-anchor="middle" font-weight="normal" fill="#1a1a1a" stroke-width="0.23">340</text>
<line x1="198.55" y1="430.1" x2="198.55" y2="433.3" stroke="#454545" stroke-width="0.9"/>
<text transform="translate(198.55 442.2) scale(1 1.08)" font-family='"Liberation Sans", sans-serif' font-size="7.2" text-anchor="middle" font-weight="normal" fill="#1a1a1a" stroke-width="0.23">350</text>
<line x1="229.5" y1="430.1" x2="229.5" y2="433.3" stroke="#454545" stroke-width="0.9"/>
<text transform="translate(229.5 442.2) scale(1 1.08)" font-family='"Liberation Sans", sans-serif' font-size="7.2" text-anchor="middle" font-weight="normal" fill="#1a1a1a" stroke-width="0.23">360</text>
<line x1="59.27" y1="430.1" x2="59.27" y2="431.8" stroke="#454545" stroke-width="0.9"/>
<line x1="90.22" y1="430.1" x2="90.22" y2="431.8" stroke="#454545" stroke-width="0.9"/>
<line x1="121.17" y1="430.1" x2="121.17" y2="431.8" stroke="#454545" stroke-width="0.9"/>
<line x1="152.12" y1="430.1" x2="152.12" y2="431.8" stroke="#454545" stroke-width="0.9"/>
<line x1="183.07" y1="430.1" x2="183.07" y2="431.8" stroke="#454545" stroke-width="0.9"/>
<line x1="214.03" y1="430.1" x2="214.03" y2="431.8" stroke="#454545" stroke-width="0.9"/>
<line x1="244.97" y1="430.1" x2="244.97" y2="431.8" stroke="#454545" stroke-width="0.9"/>
<line x1="37.6" y1="415.8" x2="40.8" y2="415.8" stroke="#454545" stroke-width="0.9"/>
<text transform="translate(35.3 418.39) scale(1 1.08)" font-family='"Liberation Sans", sans-serif' font-size="7.2" text-anchor="end" font-weight="normal" fill="#1a1a1a" stroke-width="0.23">-5</text>
<line x1="37.6" y1="388.5" x2="40.8" y2="388.5" stroke="#454545" stroke-width="0.9"/>
<text transform="translate(35.3 391.09) scale(1 1.08)" font-family='"Liberation Sans", sans-serif' font-size="7.2" text-anchor="end" font-weight="normal" fill="#1a1a1a" stroke-width="0.23">0</text>
<line x1="37.6" y1="361.2" x2="40.8" y2="361.2" stroke="#454545" stroke-width="0.9"/>
<text transform="translate(35.3 363.79) scale(1 1.08)" font-family='"Liberation Sans", sans-serif' font-size="7.2" text-anchor="end" font-weight="normal" fill="#1a1a1a" stroke-width="0.23">5</text>
<line x1="37.6" y1="333.9" x2="40.8" y2="333.9" stroke="#454545" stroke-width="0.9"/>
<text transform="translate(35.3 336.49) scale(1 1.08)" font-family='"Liberation Sans", sans-serif' font-size="7.2" text-anchor="end" font-weight="normal" fill="#1a1a1a" stroke-width="0.23">10</text>
<line x1="37.6" y1="306.6" x2="40.8" y2="306.6" stroke="#454545" stroke-width="0.9"/>
<text transform="translate(35.3 309.19) scale(1 1.08)" font-family='"Liberation Sans", sans-serif' font-size="7.2" text-anchor="end" font-weight="normal" fill="#1a1a1a" stroke-width="0.23">15</text>
<line x1="37.6" y1="279.3" x2="40.8" y2="279.3" stroke="#454545" stroke-width="0.9"/>
<text transform="translate(35.3 281.89) scale(1 1.08)" font-family='"Liberation Sans", sans-serif' font-size="7.2" text-anchor="end" font-weight="normal" fill="#1a1a1a" stroke-width="0.23">20</text>
<line x1="39.1" y1="429.45" x2="40.8" y2="429.45" stroke="#454545" stroke-width="0.9"/>
<line x1="39.1" y1="402.15" x2="40.8" y2="402.15" stroke="#454545" stroke-width="0.9"/>
<line x1="39.1" y1="374.85" x2="40.8" y2="374.85" stroke="#454545" stroke-width="0.9"/>
<line x1="39.1" y1="347.55" x2="40.8" y2="347.55" stroke="#454545" stroke-width="0.9"/>
<line x1="39.1" y1="320.25" x2="40.8" y2="320.25" stroke="#454545" stroke-width="0.9"/>
<line x1="39.1" y1="292.95" x2="40.8" y2="292.95" stroke="#454545" stroke-width="0.9"/>
<line x1="39.1" y1="265.65" x2="40.8" y2="265.65" stroke="#454545" stroke-width="0.9"/>
<text transform="translate(116 457.3) scale(1 1.08)" font-family='"Liberation Sans", sans-serif' font-size="9.1" text-anchor="start" font-weight="normal" fill="#1a1a1a" stroke-width="0.35">Temperature, <tspan font-size="5.64" dy="-3.46">o</tspan><tspan dy="3.46">C</tspan></text>
<text transform="translate(21 340.3) rotate(-90) scale(1 1.08)" font-family='"Liberation Sans", sans-serif' font-size="9.2" text-anchor="middle" font-weight="normal" fill="#1a1a1a" stroke-width="0.35">Heat flow, mW</text>
<text transform="translate(139.8 473.2) scale(1 1)" font-family='"Liberation Serif", serif' font-size="11.5" text-anchor="middle" font-weight="normal" fill="#1a1a1a" stroke-width="0.15">(<tspan font-weight="bold">c</tspan>)</text>
<line x1="162.1" y1="263.1" x2="162.1" y2="430.1" stroke="#222" stroke-width="1.3" stroke-dasharray="5.2 1.9 1.2 2.1"/>
<text transform="translate(166 267.8) scale(1 1)" font-family='"Liberation Sans", sans-serif' font-size="14" text-anchor="start" font-weight="normal" fill="#1a1a1a" stroke-width="0.4">T</text>
<text transform="translate(174.3 271.6) scale(1 1)" font-family='"Liberation Sans", sans-serif' font-size="10.8" text-anchor="start" font-weight="normal" fill="#1a1a1a" stroke-width="0.4">m</text>
<line x1="41.7" y1="251" x2="57.6" y2="251" stroke="#444" stroke-width="1.4"/>
<text transform="translate(59.6 253.41) scale(1 1.08)" font-family='"Liberation Sans", sans-serif' font-size="6.9" text-anchor="start" font-weight="normal" fill="#1a1a1a" stroke-width="0.21">Pristine PEEK</text>
<line x1="41.7" y1="259.53" x2="57.6" y2="259.53" stroke="#ff2a2a" stroke-width="1.2"/>
<text transform="translate(59.6 261.94) scale(1 1.08)" font-family='"Liberation Sans", sans-serif' font-size="6.9" text-anchor="start" font-weight="normal" fill="#1a1a1a" stroke-width="0.21">PEEK 1</text>
<line x1="41.7" y1="268.06" x2="57.6" y2="268.06" stroke="#2020f0" stroke-width="1.6"/>
<text transform="translate(59.6 270.48) scale(1 1.08)" font-family='"Liberation Sans", sans-serif' font-size="6.9" text-anchor="start" font-weight="normal" fill="#1a1a1a" stroke-width="0.21">PEEK 2</text>
<line x1="41.7" y1="276.59" x2="57.6" y2="276.59" stroke="#ff22ee" stroke-width="1.4"/>
<text transform="translate(59.6 279) scale(1 1.08)" font-family='"Liberation Sans", sans-serif' font-size="6.9" text-anchor="start" font-weight="normal" fill="#1a1a1a" stroke-width="0.21">PEEK 3</text>
<line x1="41.7" y1="285.12" x2="57.6" y2="285.12" stroke="#1e8c1e" stroke-width="1.4"/>
<text transform="translate(59.6 287.54) scale(1 1.08)" font-family='"Liberation Sans", sans-serif' font-size="6.9" text-anchor="start" font-weight="normal" fill="#1a1a1a" stroke-width="0.21">PEEK 4</text>
<line x1="41.7" y1="293.65" x2="57.6" y2="293.65" stroke="#4a4a9a" stroke-width="1.9"/>
<text transform="translate(59.6 296.06) scale(1 1.08)" font-family='"Liberation Sans", sans-serif' font-size="6.9" text-anchor="start" font-weight="normal" fill="#1a1a1a" stroke-width="0.21">PEEK 5</text>
<line x1="41.7" y1="302.18" x2="57.6" y2="302.18" stroke="#9022f4" stroke-width="1.4"/>
<text transform="translate(59.6 304.6) scale(1 1.08)" font-family='"Liberation Sans", sans-serif' font-size="6.9" text-anchor="start" font-weight="normal" fill="#1a1a1a" stroke-width="0.21">PEEK 6</text>
<line x1="41.7" y1="310.71" x2="57.6" y2="310.71" stroke="#b070b0" stroke-width="1.9"/>
<text transform="translate(59.6 313.12) scale(1 1.08)" font-family='"Liberation Sans", sans-serif' font-size="6.9" text-anchor="start" font-weight="normal" fill="#1a1a1a" stroke-width="0.21">PEEK 7</text>
<path d="M41,407.3C44.17,407.48 53.5,408.12 60,408.4C66.5,408.68 73.33,409.08 80,409C86.67,408.92 94.17,408.55 100,407.9C105.83,407.25 110.83,406 115,405.1C119.17,404.2 122.5,403.15 125,402.5C127.5,401.85 128,401.98 130,401.2C132,400.42 134.67,398.97 137,397.8C139.33,396.63 141.23,395.4 144,394.2C146.77,393 150.82,391.47 153.6,390.6C156.38,389.73 158.33,389 160.7,389C163.07,389 165.43,389.35 167.8,390.6C170.17,391.85 172.53,394.33 174.9,396.5C177.27,398.67 179.63,401.73 182,403.6C184.37,405.47 187.13,406.98 189.1,407.7C191.07,408.42 191.83,408.38 193.8,407.9C195.77,407.42 198.13,406.3 200.9,404.8C203.67,403.3 206.45,401.45 210.4,398.9C214.35,396.35 220.47,392.57 224.6,389.5C228.73,386.43 231.8,382.95 235.2,380.5C238.6,378.05 241.7,376.45 245,374.8C248.3,373.15 253.33,371.3 255,370.6" fill="none" stroke="#962090" stroke-width="1.05" stroke-linejoin="round" stroke-linecap="round"/>
<path d="M41,377.2C44.17,377.42 53.5,378.4 60,378.5C66.5,378.6 73.33,378.28 80,377.8C86.67,377.32 94.17,376.53 100,375.6C105.83,374.67 110.83,373.4 115,372.2C119.17,371 121.67,370.12 125,368.4C128.33,366.68 131.67,364.7 135,361.9C138.33,359.1 141.67,355.18 145,351.6C148.33,348.02 152.5,343.13 155,340.4C157.5,337.67 157.83,337.1 160,335.2C162.17,333.3 166,329.77 168,329C170,328.23 170.67,329.77 172,330.6C173.33,331.43 174.67,332.4 176,334C177.33,335.6 178.5,337.53 180,340.2C181.5,342.87 183.33,347 185,350C186.67,353 188,355.65 190,358.2C192,360.75 193.67,363.63 197,365.3C200.33,366.97 204.5,368 210,368.2C215.5,368.4 222.5,367.7 230,366.5C237.5,365.3 250.83,361.92 255,361" fill="none" stroke="#9022f4" stroke-width="1.05" stroke-linejoin="round" stroke-linecap="round"/>
<path d="M41,372.8C44.17,372.92 53.5,373.53 60,373.5C66.5,373.47 73.33,373.12 80,372.6C86.67,372.08 93.33,371.42 100,370.4C106.67,369.38 114.17,367.98 120,366.5C125.83,365.02 130.83,363.03 135,361.5C139.17,359.97 141.67,359.13 145,357.3C148.33,355.47 152.5,352.47 155,350.5C157.5,348.53 157.83,347.1 160,345.5C162.17,343.9 165.5,341.33 168,340.9C170.5,340.47 172.17,341.47 175,342.9C177.83,344.33 181.67,347.93 185,349.5C188.33,351.07 192.5,351.77 195,352.3C197.5,352.83 195.83,353 200,352.7C204.17,352.4 210.83,352.32 220,350.5C229.17,348.68 249.17,343.25 255,341.8" fill="none" stroke="#22228a" stroke-width="1.05" stroke-linejoin="round" stroke-linecap="round"/>
<path d="M41,348.9C44.17,348.8 53.5,348.7 60,348.3C66.5,347.9 73.33,347.3 80,346.5C86.67,345.7 93.33,344.95 100,343.5C106.67,342.05 113.33,339.97 120,337.8C126.67,335.63 134.17,332.58 140,330.5C145.83,328.42 150.83,326.92 155,325.3C159.17,323.68 162.5,321.8 165,320.8C167.5,319.8 168.33,319.5 170,319.3C171.67,319.1 172.5,318.73 175,319.6C177.5,320.47 181.67,322.77 185,324.5C188.33,326.23 190.83,328.8 195,330C199.17,331.2 204.17,331.88 210,331.7C215.83,331.52 222.5,330.35 230,328.9C237.5,327.45 250.83,323.98 255,323" fill="none" stroke="#ff22ee" stroke-width="1.05" stroke-linejoin="round" stroke-linecap="round"/>
<path d="M41,368.4C44.17,368.62 53.5,369.57 60,369.7C66.5,369.83 73.33,369.68 80,369.2C86.67,368.72 93.33,367.87 100,366.8C106.67,365.73 114.17,364.57 120,362.8C125.83,361.03 130.83,358.42 135,356.2C139.17,353.98 141.67,352.12 145,349.5C148.33,346.88 152.17,343.17 155,340.5C157.83,337.83 159.5,335.28 162,333.5C164.5,331.72 167,330.33 170,329.8C173,329.27 175.83,329.38 180,330.3C184.17,331.22 190,334.1 195,335.3C200,336.5 204.17,337.47 210,337.5C215.83,337.53 222.5,336.98 230,335.5C237.5,334.02 250.83,329.75 255,328.6" fill="none" stroke="#1e8c1e" stroke-width="1.05" stroke-linejoin="round" stroke-linecap="round"/>
<path d="M41,365.6C44.17,365.68 53.5,366.1 60,366.1C66.5,366.1 75.67,365.72 80,365.6C84.33,365.48 84.83,365.7 86,365.4C87.17,365.1 86.67,363.8 87,363.8C87.33,363.8 87.5,365.2 88,365.4C88.5,365.6 88,365.37 90,365C92,364.63 96.67,363.95 100,363.2C103.33,362.45 105.83,361.78 110,360.5C114.17,359.22 120,357.67 125,355.5C130,353.33 135.83,350.05 140,347.5C144.17,344.95 147.17,342.28 150,340.2C152.83,338.12 155,336.37 157,335C159,333.63 160.17,332.87 162,332C163.83,331.13 165.83,330.05 168,329.8C170.17,329.55 172.17,329.38 175,330.5C177.83,331.62 181.67,334.75 185,336.5C188.33,338.25 192.33,340.08 195,341C197.67,341.92 199.83,342.13 201,342C202.17,341.87 201.67,340.2 202,340.2C202.33,340.2 200,342.1 203,342C206,341.9 211.33,341.43 220,339.6C228.67,337.77 249.17,332.43 255,331" fill="none" stroke="#ff2a2a" stroke-width="1.05" stroke-linejoin="round" stroke-linecap="round"/>
<path d="M41,365.8C44.17,365.88 53.5,366.3 60,366.3C66.5,366.3 75.67,365.92 80,365.8C84.33,365.68 84.83,365.87 86,365.6C87.17,365.33 86.67,364.2 87,364.2C87.33,364.2 87.5,365.43 88,365.6C88.5,365.77 88,365.63 90,365.2C92,364.77 96.67,363.87 100,363C103.33,362.13 105.83,361.43 110,360C114.17,358.57 120,356.73 125,354.4C130,352.07 135.83,348.65 140,346C144.17,343.35 147.17,340.58 150,338.5C152.83,336.42 155,334.72 157,333.5C159,332.28 160.17,331.82 162,331.2C163.83,330.58 165.83,329.92 168,329.8C170.17,329.68 172.17,329.22 175,330.5C177.83,331.78 181.67,335.68 185,337.5C188.33,339.32 192.17,340.57 195,341.4C197.83,342.23 197.83,342.8 202,342.5C206.17,342.2 211.17,341.52 220,339.6C228.83,337.68 249.17,332.43 255,331" fill="none" stroke="#2020f0" stroke-width="1.05" stroke-linejoin="round" stroke-linecap="round"/>
<path d="M41,322.1C44.17,322.05 53.5,322.02 60,321.8C66.5,321.58 73.33,321.47 80,320.8C86.67,320.13 94.17,319.03 100,317.8C105.83,316.57 110.83,314.87 115,313.4C119.17,311.93 121.67,310.8 125,309C128.33,307.2 131.67,305.17 135,302.6C138.33,300.03 141.67,296.28 145,293.6C148.33,290.92 152.5,287.88 155,286.5C157.5,285.12 158.67,285.52 160,285.3C161.33,285.08 161.33,284.58 163,285.2C164.67,285.82 167.17,286.45 170,289C172.83,291.55 176.67,296.58 180,300.5C183.33,304.42 186.67,309.4 190,312.5C193.33,315.6 196.67,317.82 200,319.1C203.33,320.38 205,320.57 210,320.2C215,319.83 222.5,318.35 230,316.9C237.5,315.45 250.83,312.4 255,311.5" fill="none" stroke="#262626" stroke-width="1.05" stroke-linejoin="round" stroke-linecap="round"/>
<line x1="333.4" y1="257.5" x2="333.4" y2="423.7" stroke="#454545" stroke-width="1.4"/>
<line x1="332.7" y1="423" x2="539.2" y2="423" stroke="#454545" stroke-width="1.4"/>
<line x1="347.2" y1="423" x2="347.2" y2="426.2" stroke="#454545" stroke-width="0.9"/>
<text transform="translate(347.2 434) scale(1 1.08)" font-family='"Liberation Sans", sans-serif' font-size="7.2" text-anchor="middle" font-weight="normal" fill="#1a1a1a" stroke-width="0.23">500</text>
<line x1="431.9" y1="423" x2="431.9" y2="426.2" stroke="#454545" stroke-width="0.9"/>
<text transform="translate(431.9 434) scale(1 1.08)" font-family='"Liberation Sans", sans-serif' font-size="7.2" text-anchor="middle" font-weight="normal" fill="#1a1a1a" stroke-width="0.23">600</text>
<line x1="516.6" y1="423" x2="516.6" y2="426.2" stroke="#454545" stroke-width="0.9"/>
<text transform="translate(516.6 434) scale(1 1.08)" font-family='"Liberation Sans", sans-serif' font-size="7.2" text-anchor="middle" font-weight="normal" fill="#1a1a1a" stroke-width="0.23">700</text>
<line x1="389.55" y1="423" x2="389.55" y2="424.7" stroke="#454545" stroke-width="0.9"/>
<line x1="474.25" y1="423" x2="474.25" y2="424.7" stroke="#454545" stroke-width="0.9"/>
<line x1="330.2" y1="407.57" x2="333.4" y2="407.57" stroke="#454545" stroke-width="0.9"/>
<text transform="translate(328.4 410.16) scale(1 1.08)" font-family='"Liberation Sans", sans-serif' font-size="7.2" text-anchor="end" font-weight="normal" fill="#1a1a1a" stroke-width="0.23">-100</text>
<line x1="330.2" y1="365.84" x2="333.4" y2="365.84" stroke="#454545" stroke-width="0.9"/>
<text transform="translate(328.4 368.43) scale(1 1.08)" font-family='"Liberation Sans", sans-serif' font-size="7.2" text-anchor="end" font-weight="normal" fill="#1a1a1a" stroke-width="0.23">-50</text>
<line x1="330.2" y1="324.1" x2="333.4" y2="324.1" stroke="#454545" stroke-width="0.9"/>
<text transform="translate(328.4 326.69) scale(1 1.08)" font-family='"Liberation Sans", sans-serif' font-size="7.2" text-anchor="end" font-weight="normal" fill="#1a1a1a" stroke-width="0.23">0</text>
<line x1="330.2" y1="282.37" x2="333.4" y2="282.37" stroke="#454545" stroke-width="0.9"/>
<text transform="translate(328.4 284.96) scale(1 1.08)" font-family='"Liberation Sans", sans-serif' font-size="7.2" text-anchor="end" font-weight="normal" fill="#1a1a1a" stroke-width="0.23">50</text>
<line x1="331.7" y1="386.7" x2="333.4" y2="386.7" stroke="#454545" stroke-width="0.9"/>
<line x1="331.7" y1="344.97" x2="333.4" y2="344.97" stroke="#454545" stroke-width="0.9"/>
<line x1="331.7" y1="303.23" x2="333.4" y2="303.23" stroke="#454545" stroke-width="0.9"/>
<line x1="331.7" y1="261.5" x2="333.4" y2="261.5" stroke="#454545" stroke-width="0.9"/>
<text transform="translate(405.5 449.1) scale(1 1.08)" font-family='"Liberation Sans", sans-serif' font-size="8.8" text-anchor="start" font-weight="normal" fill="#1a1a1a" stroke-width="0.33">Temperature, <tspan font-size="5.46" dy="-3.34">o</tspan><tspan dy="3.34">C</tspan></text>
<text transform="translate(308.2 336.9) rotate(-90) scale(1 1.08)" font-family='"Liberation Sans", sans-serif' font-size="9.2" text-anchor="middle" font-weight="normal" fill="#1a1a1a" stroke-width="0.35">Heat flow, mW</text>
<text transform="translate(423.3 473.2) scale(1 1)" font-family='"Liberation Serif", serif' font-size="11.5" text-anchor="middle" font-weight="normal" fill="#1a1a1a" stroke-width="0.15">(<tspan font-weight="bold">d</tspan>)</text>
<line x1="466.2" y1="345.9" x2="485.1" y2="345.9" stroke="#262626" stroke-width="1.35"/>
<text transform="translate(487.1 348.73) scale(1 1.08)" font-family='"Liberation Sans", sans-serif' font-size="8.1" text-anchor="start" font-weight="normal" fill="#1a1a1a" stroke-width="0.29">Pristine PEEK</text>
<line x1="466.2" y1="355.88" x2="485.1" y2="355.88" stroke="#ff2a2a" stroke-width="1.35"/>
<text transform="translate(487.1 358.71) scale(1 1.08)" font-family='"Liberation Sans", sans-serif' font-size="8.1" text-anchor="start" font-weight="normal" fill="#1a1a1a" stroke-width="0.29">PEEK 1</text>
<line x1="466.2" y1="365.86" x2="485.1" y2="365.86" stroke="#2020f0" stroke-width="1.35"/>
<text transform="translate(487.1 368.69) scale(1 1.08)" font-family='"Liberation Sans", sans-serif' font-size="8.1" text-anchor="start" font-weight="normal" fill="#1a1a1a" stroke-width="0.29">PEEK 2</text>
<line x1="466.2" y1="375.84" x2="485.1" y2="375.84" stroke="#ff22ee" stroke-width="1.35"/>
<text transform="translate(487.1 378.67) scale(1 1.08)" font-family='"Liberation Sans", sans-serif' font-size="8.1" text-anchor="start" font-weight="normal" fill="#1a1a1a" stroke-width="0.29">PEEK 3</text>
<line x1="466.2" y1="385.82" x2="485.1" y2="385.82" stroke="#1e8c1e" stroke-width="1.35"/>
<text transform="translate(487.1 388.65) scale(1 1.08)" font-family='"Liberation Sans", sans-serif' font-size="8.1" text-anchor="start" font-weight="normal" fill="#1a1a1a" stroke-width="0.29">PEEK 4</text>
<line x1="466.2" y1="395.8" x2="485.1" y2="395.8" stroke="#22228a" stroke-width="1.35"/>
<text transform="translate(487.1 398.63) scale(1 1.08)" font-family='"Liberation Sans", sans-serif' font-size="8.1" text-anchor="start" font-weight="normal" fill="#1a1a1a" stroke-width="0.29">PEEK 5</text>
<line x1="466.2" y1="405.78" x2="485.1" y2="405.78" stroke="#9022f4" stroke-width="1.35"/>
<text transform="translate(487.1 408.61) scale(1 1.08)" font-family='"Liberation Sans", sans-serif' font-size="8.1" text-anchor="start" font-weight="normal" fill="#1a1a1a" stroke-width="0.29">PEEK 6</text>
<line x1="466.2" y1="415.76" x2="485.1" y2="415.76" stroke="#962090" stroke-width="1.35"/>
<text transform="translate(487.1 418.59) scale(1 1.08)" font-family='"Liberation Sans", sans-serif' font-size="8.1" text-anchor="start" font-weight="normal" fill="#1a1a1a" stroke-width="0.29">PEEK 7</text>
<path d="M333.5,314.1C336.25,313.98 344.75,313.52 350,313.4C355.25,313.28 361.5,313.33 365,313.4C368.5,313.47 369.1,313.48 371,313.8C372.9,314.12 374.77,314.8 376.4,315.3C378.03,315.8 379.2,316.02 380.8,316.8C382.4,317.58 384.05,318.78 386,320C387.95,321.22 390.47,322.9 392.5,324.1C394.53,325.3 396.57,326.45 398.2,327.2C399.83,327.95 401.08,327.97 402.3,328.6C403.52,329.23 404.52,330.02 405.5,331C406.48,331.98 407.37,332.83 408.2,334.5C409.03,336.17 409.85,338.8 410.5,341C411.15,343.2 411.52,345.03 412.1,347.7C412.68,350.37 413.35,353.75 414,357C414.65,360.25 415.17,363.2 416,367.2C416.83,371.2 418.02,376.45 419,381C419.98,385.55 420.98,390 421.9,394.5C422.82,399 423.72,404.33 424.5,408C425.28,411.67 425.98,414.58 426.6,416.5C427.22,418.42 427.55,420.12 428.2,419.5C428.85,418.88 429.78,416.22 430.5,412.8C431.22,409.38 431.67,403.93 432.5,399C433.33,394.07 434.35,388.78 435.5,383.2C436.65,377.62 438.32,369.3 439.4,365.5C440.48,361.7 440.57,362.53 442,360.4C443.43,358.27 445.83,355.15 448,352.7C450.17,350.25 452.17,348.07 455,345.7C457.83,343.33 461.67,340.78 465,338.5C468.33,336.22 470.83,334.07 475,332C479.17,329.93 485,327.5 490,326.1C495,324.7 500,324.12 505,323.6C510,323.08 514.17,323.1 520,323C525.83,322.9 536.67,323 540,323" fill="none" stroke="#9022f4" stroke-width="1.05" stroke-linejoin="round" stroke-linecap="round"/>
<path d="M333.5,299.5C336.25,298.9 344.75,296.92 350,295.9C355.25,294.88 360,294.05 365,293.4C370,292.75 375.83,292.07 380,292C384.17,291.93 387.33,292.47 390,293C392.67,293.53 394.5,294.65 396,295.2C397.5,295.75 397.83,296.42 399,296.3C400.17,296.18 401.5,295.05 403,294.5C404.5,293.95 406.5,293.37 408,293C409.5,292.63 410,292.37 412,292.3C414,292.23 417.83,292.07 420,292.6C422.17,293.13 423.5,294.6 425,295.5C426.5,296.4 427.83,298 429,298C430.17,298 430.83,296.83 432,295.5C433.17,294.17 434.67,291.97 436,290C437.33,288.03 438.83,285.33 440,283.7C441.17,282.07 441.67,280.63 443,280.2C444.33,279.77 446.5,280.83 448,281.1C449.5,281.37 450,282.32 452,281.8C454,281.28 456.17,279.85 460,278C463.83,276.15 470,272.97 475,270.7C480,268.43 485,266.6 490,264.4C495,262.2 502.5,258.65 505,257.5" fill="none" stroke="#ff22ee" stroke-width="1.05" stroke-linejoin="round" stroke-linecap="round"/>
<path d="M333.5,301C336.25,300.88 343.92,300.55 350,300.3C356.08,300.05 365,299.38 370,299.5C375,299.62 376.75,299.87 380,301C383.25,302.13 387,305.43 389.5,306.3C392,307.17 393,306.43 395,306.2C397,305.97 399.67,305.47 401.5,304.9C403.33,304.33 404.75,303.25 406,302.8C407.25,302.35 407.93,301.93 409,302.2C410.07,302.47 411.48,303.1 412.4,304.4C413.32,305.7 413.6,307.32 414.5,310C415.4,312.68 416.88,317.75 417.8,320.5C418.72,323.25 418.97,324.33 420,326.5C421.03,328.67 422.67,331.75 424,333.5C425.33,335.25 426.92,336.83 428,337C429.08,337.17 429.67,336.33 430.5,334.5C431.33,332.67 431.92,329.9 433,326C434.08,322.1 435.83,315.03 437,311.1C438.17,307.17 439,304.88 440,302.4C441,299.92 441.67,297.97 443,296.2C444.33,294.43 446,293.15 448,291.8C450,290.45 453,289.45 455,288.1C457,286.75 457.5,285.73 460,283.7C462.5,281.67 465,278.6 470,275.9C475,273.2 483.33,269.93 490,267.5C496.67,265.07 504.5,262.98 510,261.3C515.5,259.62 520.83,258.05 523,257.4" fill="none" stroke="#22228a" stroke-width="1.05" stroke-linejoin="round" stroke-linecap="round"/>
<path d="M333.5,309C336.25,308.63 343.92,307.4 350,306.8C356.08,306.2 364.17,305.03 370,305.4C375.83,305.77 381.75,307.65 385,309C388.25,310.35 387.67,312.92 389.5,313.5C391.33,314.08 393.65,313.02 396,312.5C398.35,311.98 401.78,311.12 403.6,310.4C405.42,309.68 405.8,308.48 406.9,308.2C408,307.92 409.1,308.07 410.2,308.7C411.3,309.33 412.42,309.87 413.5,312C414.58,314.13 415.7,318.33 416.7,321.5C417.7,324.67 418.28,328.08 419.5,331C420.72,333.92 422.58,337.02 424,339C425.42,340.98 426.67,342.98 428,342.9C429.33,342.82 430.67,341.32 432,338.5C433.33,335.68 434.67,330.77 436,326C437.33,321.23 438.83,313.83 440,309.9C441.17,305.97 441.67,304.48 443,302.4C444.33,300.32 446,298.85 448,297.4C450,295.95 452.17,295.35 455,293.7C457.83,292.05 461.67,289.25 465,287.5C468.33,285.75 470,285.3 475,283.2C480,281.1 488.33,277.68 495,274.9C501.67,272.12 510.5,268.22 515,266.5C519.5,264.78 520.58,265.22 522,264.6C523.42,263.98 523,263.07 523.5,262.8C524,262.53 522.25,263.53 525,263C527.75,262.47 537.5,260.17 540,259.6" fill="none" stroke="#962090" stroke-width="1.05" stroke-linejoin="round" stroke-linecap="round"/>
<path d="M333.5,303.2C336.25,303.2 343.92,303.28 350,303.2C356.08,303.12 365,302.37 370,302.7C375,303.03 377.3,303.9 380,305.2C382.7,306.5 384.08,308.82 386.2,310.5C388.32,312.18 390.88,314.32 392.7,315.3C394.52,316.28 395.82,316.4 397.1,316.4C398.38,316.4 399.32,315.95 400.4,315.3C401.48,314.65 402.7,313.05 403.6,312.5C404.5,311.95 405.07,311.82 405.8,312C406.53,312.18 407.27,312.52 408,313.6C408.73,314.68 409.28,315.85 410.2,318.5C411.12,321.15 412.28,325.17 413.5,329.5C414.72,333.83 416.25,340.25 417.5,344.5C418.75,348.75 419.83,351.75 421,355C422.17,358.25 423.33,361.77 424.5,364C425.67,366.23 427.08,368.15 428,368.4C428.92,368.65 429.25,367.97 430,365.5C430.75,363.03 431.58,357.55 432.5,353.6C433.42,349.65 434.52,345.4 435.5,341.8C436.48,338.2 437.65,335.05 438.4,332C439.15,328.95 439.07,326.57 440,323.5C440.93,320.43 442.33,316.4 444,313.6C445.67,310.8 447.67,308.78 450,306.7C452.33,304.62 455.5,302.98 458,301.1C460.5,299.22 462.17,297.25 465,295.4C467.83,293.55 470.83,291.68 475,290C479.17,288.32 484.17,286.95 490,285.3C495.83,283.65 503.33,281.67 510,280.1C516.67,278.53 525,277.02 530,275.9C535,274.78 538.33,273.82 540,273.4" fill="none" stroke="#1e8c1e" stroke-width="1.05" stroke-linejoin="round" stroke-linecap="round"/>
<path d="M333.5,305.5C336.25,305.5 343.77,305.42 350,305.5C356.23,305.58 365.6,305.18 370.9,306C376.2,306.82 379.07,309.03 381.8,310.4C384.53,311.77 385.85,313.38 387.3,314.2C388.75,315.02 389.05,315.2 390.5,315.3C391.95,315.4 394.17,315.17 396,314.8C397.83,314.43 400.23,313.45 401.5,313.1C402.77,312.75 402.7,312.38 403.6,312.7C404.5,313.02 405.8,313.53 406.9,315C408,316.47 409.1,318.97 410.2,321.5C411.3,324.03 412.53,327.33 413.5,330.2C414.47,333.07 414.97,335.17 416,338.7C417.03,342.23 418.43,347.32 419.7,351.4C420.97,355.48 422.38,360.27 423.6,363.2C424.82,366.13 426.02,368.5 427,369C427.98,369.5 428.58,368.58 429.5,366.2C430.42,363.82 431.5,358.73 432.5,354.7C433.5,350.67 434.58,345.78 435.5,342C436.42,338.22 437.08,335.7 438,332C438.92,328.3 439.67,323.08 441,319.8C442.33,316.52 444.17,314.48 446,312.3C447.83,310.12 449.67,308.45 452,306.7C454.33,304.95 457,303.35 460,301.8C463,300.25 467.5,298.38 470,297.4C472.5,296.42 471.67,296.75 475,295.9C478.33,295.05 484.17,293.57 490,292.3C495.83,291.03 503.33,289.85 510,288.3C516.67,286.75 525,284.33 530,283C535,281.67 538.33,280.75 540,280.3" fill="none" stroke="#ff2a2a" stroke-width="1.05" stroke-linejoin="round" stroke-linecap="round"/>
<path d="M333.5,306.1C336.25,306.1 343.77,306.03 350,306.1C356.23,306.17 365.6,305.7 370.9,306.5C376.2,307.3 379.07,309.53 381.8,310.9C384.53,312.27 385.85,313.88 387.3,314.7C388.75,315.52 389.05,315.7 390.5,315.8C391.95,315.9 394.17,315.67 396,315.3C397.83,314.93 400.23,313.97 401.5,313.6C402.77,313.23 402.7,312.82 403.6,313.1C404.5,313.38 405.8,313.85 406.9,315.3C408,316.75 409.1,319.27 410.2,321.8C411.3,324.33 412.53,327.63 413.5,330.5C414.47,333.37 414.97,335.47 416,339C417.03,342.53 418.43,347.62 419.7,351.7C420.97,355.78 422.38,360.55 423.6,363.5C424.82,366.45 426.02,368.9 427,369.4C427.98,369.9 428.58,368.9 429.5,366.5C430.42,364.1 431.5,358.92 432.5,355C433.5,351.08 434.58,346.67 435.5,343C436.42,339.33 437.08,336.67 438,333C438.92,329.33 439.67,324.23 441,321C442.33,317.77 444.17,315.67 446,313.6C447.83,311.53 449.67,310.37 452,308.6C454.33,306.83 457,304.77 460,303C463,301.23 467.5,299.13 470,298C472.5,296.87 471.67,297.1 475,296.2C478.33,295.3 484.17,293.88 490,292.6C495.83,291.32 503.33,290.07 510,288.5C516.67,286.93 525,284.53 530,283.2C535,281.87 538.33,280.95 540,280.5" fill="none" stroke="#2020f0" stroke-width="1.05" stroke-linejoin="round" stroke-linecap="round"/>
<path d="M333.5,299.8C336.25,299.68 343.92,299.33 350,299.1C356.08,298.87 365.33,298.45 370,298.4C374.67,298.35 375.83,298.37 378,298.8C380.17,299.23 381.33,299.9 383,301C384.67,302.1 386.57,303.82 388,305.4C389.43,306.98 390.43,309.48 391.6,310.5C392.77,311.52 393.6,311.38 395,311.5C396.4,311.62 398.67,311.3 400,311.2C401.33,311.1 402.03,310.35 403,310.9C403.97,311.45 404.88,312.98 405.8,314.5C406.72,316.02 407.4,317.87 408.5,320C409.6,322.13 411.15,324.47 412.4,327.3C413.65,330.13 414.73,334.05 416,337C417.27,339.95 418.67,342.5 420,345C421.33,347.5 422.62,350 424,352C425.38,354 427.13,356.83 428.3,357C429.47,357.17 430.22,354.83 431,353C431.78,351.17 432.33,348.22 433,346C433.67,343.78 434.17,342.82 435,339.7C435.83,336.58 437,331.45 438,327.3C439,323.15 439.83,318.12 441,314.8C442.17,311.48 443.5,309.57 445,307.4C446.5,305.23 447.83,303.57 450,301.8C452.17,300.03 455.5,297.98 458,296.8C460.5,295.62 462.17,295.05 465,294.7C467.83,294.35 470.83,294.35 475,294.7C479.17,295.05 485.83,296.45 490,296.8C494.17,297.15 497.5,297.15 500,296.8C502.5,296.45 503.33,295.92 505,294.7C506.67,293.48 508.33,291.58 510,289.5C511.67,287.42 513,284.63 515,282.2C517,279.77 519.5,276.65 522,274.9C524.5,273.15 527.33,272.4 530,271.7C532.67,271 536.33,270.82 538,270.7C539.67,270.58 539.67,270.95 540,271" fill="none" stroke="#262626" stroke-width="1.05" stroke-linejoin="round" stroke-linecap="round"/>
</svg>
</body></html>
